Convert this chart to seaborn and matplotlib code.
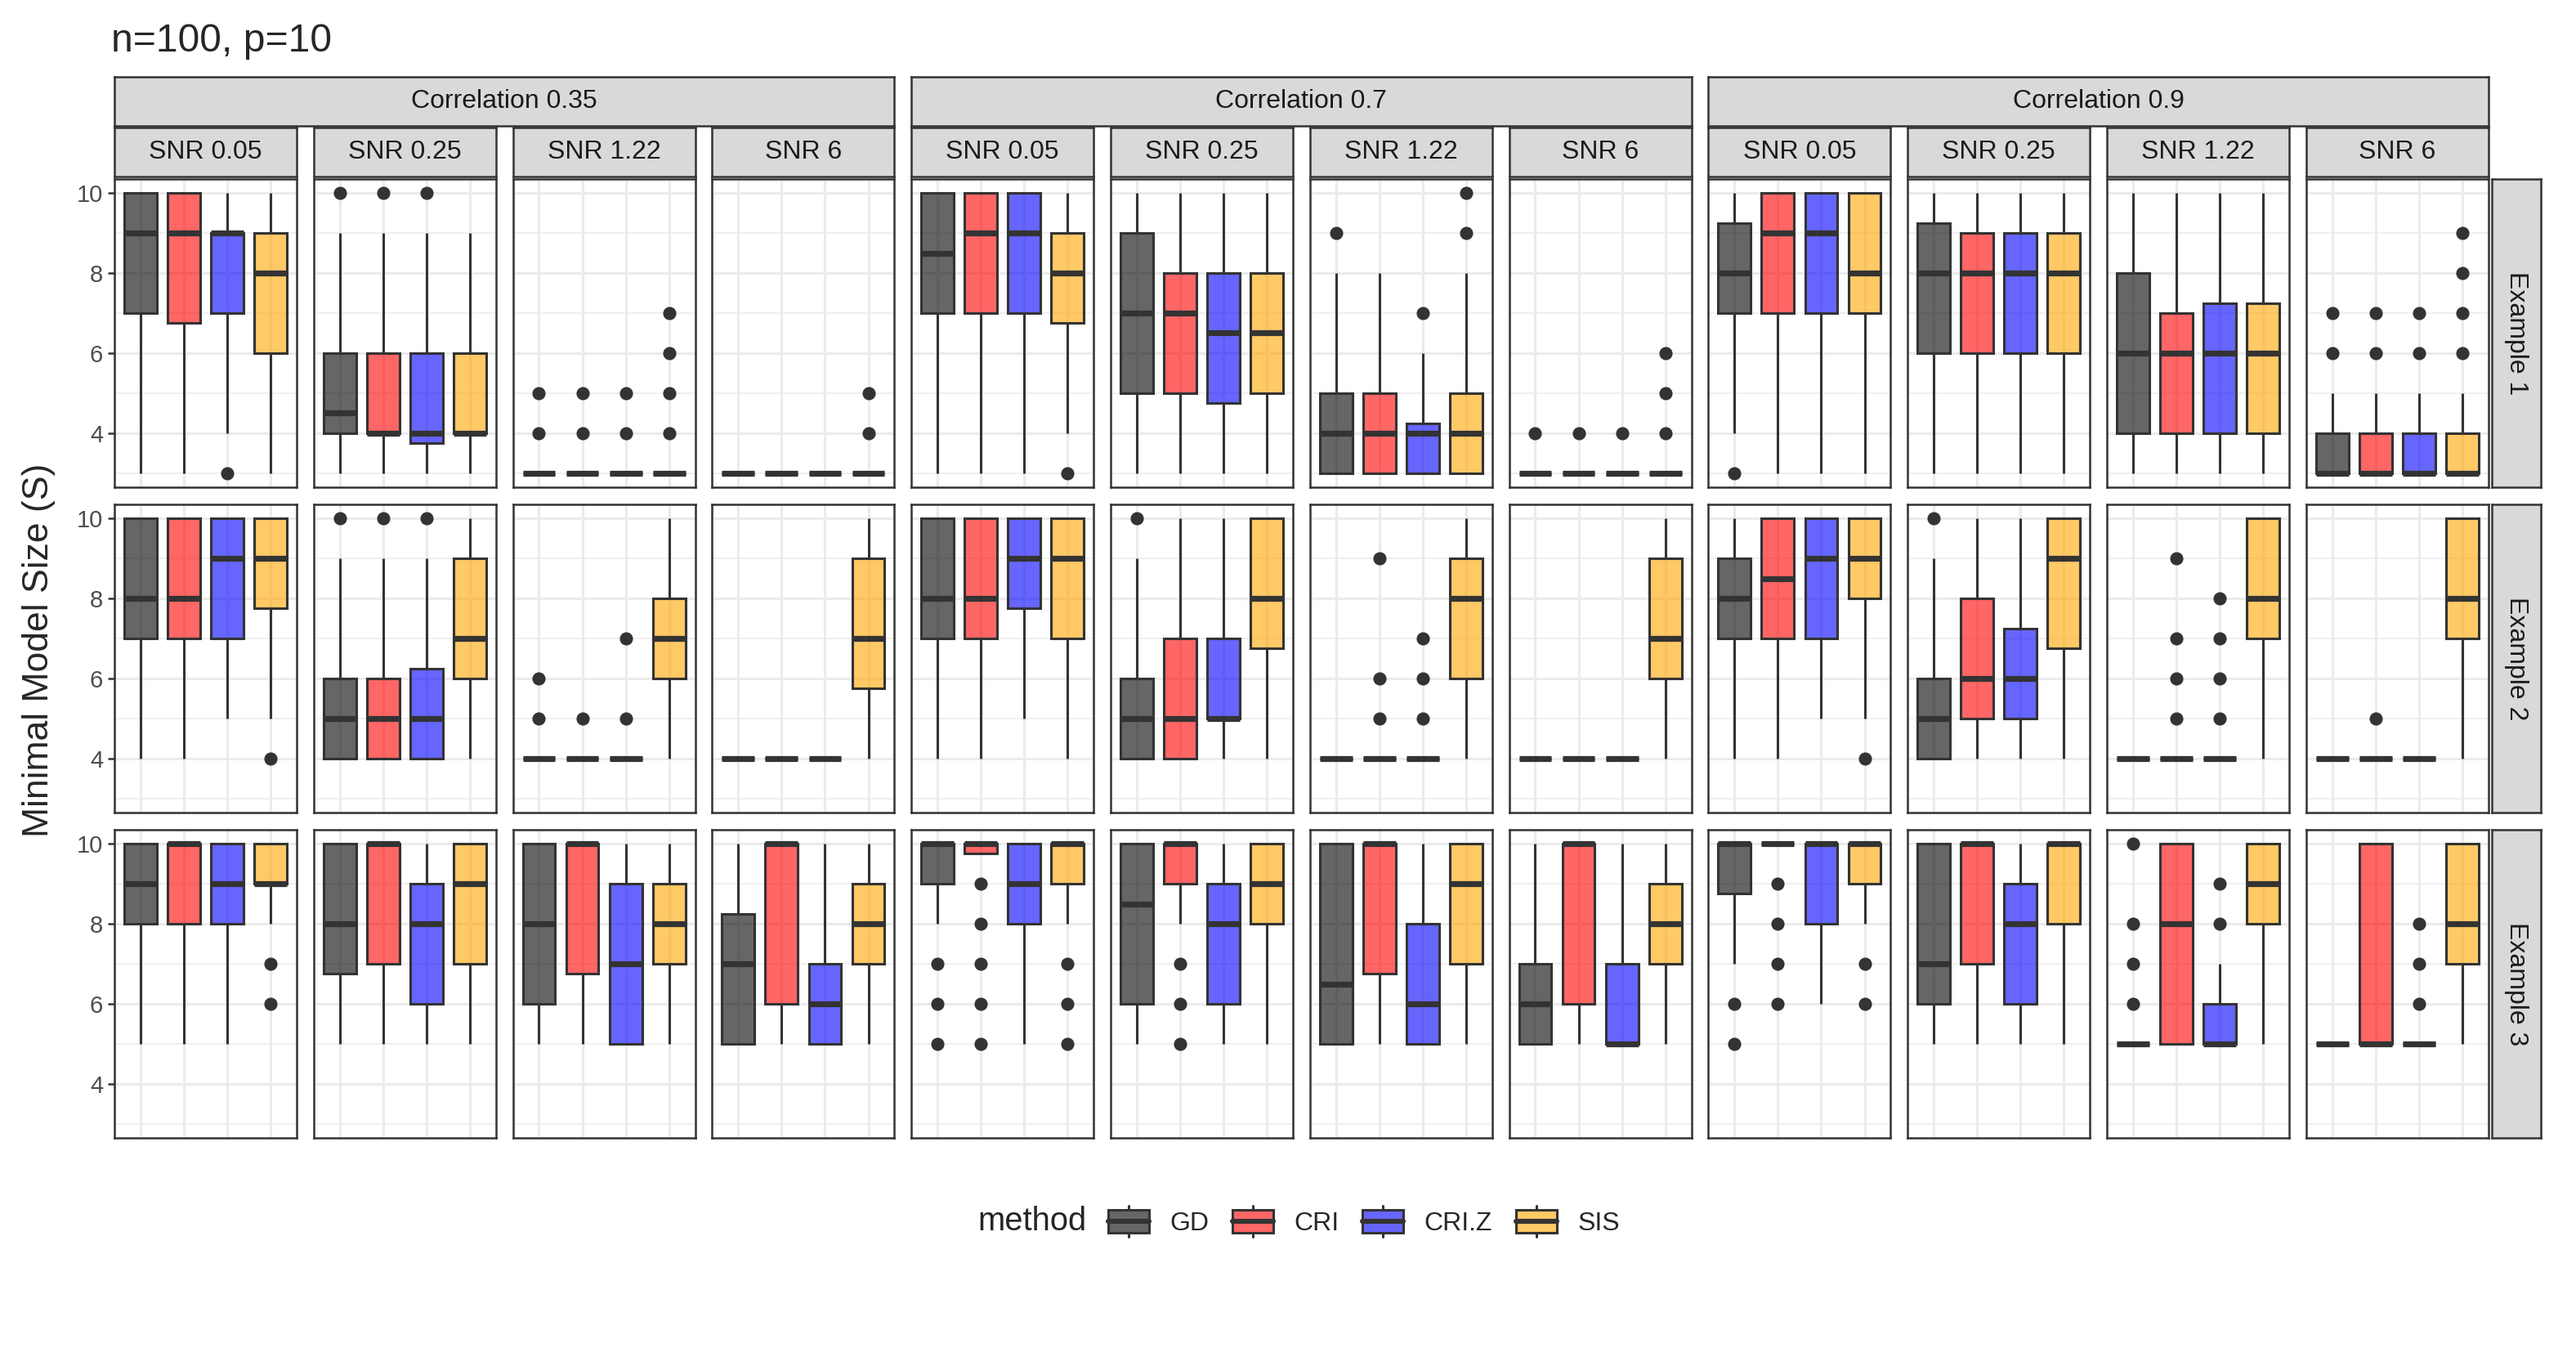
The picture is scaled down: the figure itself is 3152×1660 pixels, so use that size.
import numpy as np
import pandas as pd
import matplotlib
matplotlib.use("Agg")
import matplotlib.pyplot as plt
import seaborn as sns
from matplotlib.patches import Patch, Rectangle
from matplotlib.lines import Line2D
from matplotlib.legend_handler import HandlerBase

methods = ["GD", "CRI", "CRI.Z", "SIS"]
method_colors = ["#000000", "#FF0000", "#0000FF", "#FFA500"]
correlations = ["Correlation 0.35", "Correlation 0.7", "Correlation 0.9"]
snr_levels = ["SNR 0.05", "SNR 0.25", "SNR 1.22", "SNR 6"]
examples = ["Example 1", "Example 2", "Example 3"]

# box summaries.
# each line = one correlation, 4 SNR panels x 4 methods (GD, CRI, CRI.Z, SIS)
# ---- Example 1
ex1_lo = [3, 3, 4, 3,  3, 3, 3, 3,  3, 3, 3, 3,  3, 3, 3, 3,
          3, 3, 3, 4,  3, 3, 3, 3,  3, 3, 3, 3,  3, 3, 3, 3,
          4, 3, 3, 3,  3, 3, 3, 3,  3, 3, 3, 3,  3, 3, 3, 3]
ex1_q1 = [7, 6.75, 7, 6,  4, 4, 3.75, 4,  3, 3, 3, 3,  3, 3, 3, 3,
          7, 7, 7, 6.75,  5, 5, 4.75, 5,  3, 3, 3, 3,  3, 3, 3, 3,
          7, 7, 7, 7,  6, 6, 6, 6,  4, 4, 4, 4,  3, 3, 3, 3]
ex1_med = [9, 9, 9, 8,  4.5, 4, 4, 4,  3, 3, 3, 3,  3, 3, 3, 3,
           8.5, 9, 9, 8,  7, 7, 6.5, 6.5,  4, 4, 4, 4,  3, 3, 3, 3,
           8, 9, 9, 8,  8, 8, 8, 8,  6, 6, 6, 6,  3, 3, 3, 3]
ex1_q3 = [10, 10, 9, 9,  6, 6, 6, 6,  3, 3, 3, 3,  3, 3, 3, 3,
          10, 10, 10, 9,  9, 8, 8, 8,  5, 5, 4.25, 5,  3, 3, 3, 3,
          9.25, 10, 10, 10,  9.25, 9, 9, 9,  8, 7, 7.25, 7.25,  4, 4, 4, 4]
ex1_hi = [10, 10, 10, 10,  9, 9, 9, 9,  3, 3, 3, 3,  3, 3, 3, 3,
          10, 10, 10, 10,  10, 10, 10, 10,  8, 8, 6, 8,  3, 3, 3, 3,
          10, 10, 10, 10,  10, 10, 10, 10,  10, 10, 10, 10,  5, 5, 5, 5]
ex1_out = [[], [], [3], [],  [10], [10], [10], [],  [4, 5], [4, 5], [4, 5], [4, 5, 6, 7],  [], [], [], [4, 5],
           [], [], [], [3],  [], [], [], [],  [9], [], [7], [9, 10],  [4], [4], [4], [4, 5, 6],
           [3], [], [], [],  [], [], [], [],  [], [], [], [],  [6, 7], [6, 7], [6, 7], [6, 7, 8, 9]]

# ---- Example 2
ex2_lo = [4, 4, 5, 5,  4, 4, 4, 4,  4, 4, 4, 4,  4, 4, 4, 4,
          4, 4, 5, 4,  4, 4, 4, 4,  4, 4, 4, 4,  4, 4, 4, 4,
          4, 4, 5, 5,  4, 4, 4, 4,  4, 4, 4, 4,  4, 4, 4, 4]
ex2_q1 = [7, 7, 7, 7.75,  4, 4, 4, 6,  4, 4, 4, 6,  4, 4, 4, 5.75,
          7, 7, 7.75, 7,  4, 4, 5, 6.75,  4, 4, 4, 6,  4, 4, 4, 6,
          7, 7, 7, 8,  4, 5, 5, 6.75,  4, 4, 4, 7,  4, 4, 4, 7]
ex2_med = [8, 8, 9, 9,  5, 5, 5, 7,  4, 4, 4, 7,  4, 4, 4, 7,
           8, 8, 9, 9,  5, 5, 5, 8,  4, 4, 4, 8,  4, 4, 4, 7,
           8, 8.5, 9, 9,  5, 6, 6, 9,  4, 4, 4, 8,  4, 4, 4, 8]
ex2_q3 = [10, 10, 10, 10,  6, 6, 6.25, 9,  4, 4, 4, 8,  4, 4, 4, 9,
          10, 10, 10, 10,  6, 7, 7, 10,  4, 4, 4, 9,  4, 4, 4, 9,
          9, 10, 10, 10,  6, 8, 7.25, 10,  4, 4, 4, 10,  4, 4, 4, 10]
ex2_hi = [10, 10, 10, 10,  9, 9, 9, 10,  4, 4, 4, 10,  4, 4, 4, 10,
          10, 10, 10, 10,  9, 10, 10, 10,  4, 4, 4, 10,  4, 4, 4, 10,
          10, 10, 10, 10,  9, 10, 10, 10,  4, 4, 4, 10,  4, 4, 4, 10]
ex2_out = [[], [], [], [4],  [10], [10], [10], [],  [5, 6], [5], [5, 7], [],  [], [], [], [],
           [], [], [], [],  [10], [], [], [],  [], [5, 6, 9], [5, 6, 7], [],  [], [], [], [],
           [], [], [], [4],  [10], [], [], [],  [], [5, 6, 7, 9], [5, 6, 7, 8], [],  [], [5], [], []]

# ---- Example 3
ex3_lo = [5, 5, 5, 8,  5, 5, 5, 5,  5, 5, 5, 5,  5, 5, 5, 5,
          8, 9.75, 5, 8,  5, 8, 5, 5,  5, 5, 5, 5,  5, 5, 5, 5,
          7, 10, 6, 8,  5, 5, 5, 5,  5, 5, 5, 5,  5, 5, 5, 5]
ex3_q1 = [8, 8, 8, 9,  6.75, 7, 6, 7,  6, 6.75, 5, 7,  5, 6, 5, 7,
          9, 9.75, 8, 9,  6, 9, 6, 8,  5, 6.75, 5, 7,  5, 6, 5, 7,
          8.75, 10, 8, 9,  6, 7, 6, 8,  5, 5, 5, 8,  5, 5, 5, 7]
ex3_med = [9, 10, 9, 9,  8, 10, 8, 9,  8, 10, 7, 8,  7, 10, 6, 8,
           10, 10, 9, 10,  8.5, 10, 8, 9,  6.5, 10, 6, 9,  6, 10, 5, 8,
           10, 10, 10, 10,  7, 10, 8, 10,  5, 8, 5, 9,  5, 5, 5, 8]
ex3_q3 = [10, 10, 10, 10,  10, 10, 9, 10,  10, 10, 9, 9,  8.25, 10, 7, 9,
          10, 10, 10, 10,  10, 10, 9, 10,  10, 10, 8, 10,  7, 10, 7, 9,
          10, 10, 10, 10,  10, 10, 9, 10,  5, 10, 6, 10,  5, 10, 5, 10]
ex3_hi = [10, 10, 10, 10,  10, 10, 10, 10,  10, 10, 10, 10,  10, 10, 10, 10,
          10, 10, 10, 10,  10, 10, 10, 10,  10, 10, 10, 10,  10, 10, 10, 10,
          10, 10, 10, 10,  10, 10, 10, 10,  5, 10, 7, 10,  5, 10, 5, 10]
ex3_out = [[], [], [], [6, 7],  [], [], [], [],  [], [], [], [],  [], [], [], [],
           [5, 6, 7], [5, 6, 7, 8, 9], [], [5, 6, 7],  [], [5, 6, 7], [], [],  [], [], [], [],  [], [], [], [],
           [5, 6], [6, 7, 8, 9], [], [6, 7],  [], [], [], [],  [6, 7, 8, 10], [], [8, 9], [],  [], [], [6, 7, 8], []]

stats = {
    "Example 1": (ex1_lo, ex1_q1, ex1_med, ex1_q3, ex1_hi, ex1_out),
    "Example 2": (ex2_lo, ex2_q1, ex2_med, ex2_q3, ex2_hi, ex2_out),
    "Example 3": (ex3_lo, ex3_q1, ex3_med, ex3_q3, ex3_hi, ex3_out),
}


def box_sample(lo, q1, med, q3, hi, out, n=101):
    # sorted sample whose quartiles / whiskers / outliers match the summary
    low = sorted(o for o in out if o < q1)
    high = sorted(o for o in out if o > q3)
    k, m = len(low), len(high)
    v = np.empty(n)
    v[:k] = low
    v[k] = lo
    v[k + 1:26] = q1
    v[26:51] = med
    v[51:76] = q3
    v[76:n - 1 - m] = q3
    v[n - 1 - m] = hi
    v[n - m:] = high
    return v


rows = []
for ex in examples:
    lo, q1, med, q3, hi, out = stats[ex]
    for i in range(48):
        panel, mi = divmod(i, 4)
        corr, snr = divmod(panel, 4)
        for val in box_sample(lo[i], q1[i], med[i], q3[i], hi[i], out[i]):
            rows.append((ex, correlations[corr], snr_levels[snr], methods[mi], val))
df = pd.DataFrame(rows, columns=["example", "correlation", "snr", "method", "value"])

sns.set_style("white")
plt.rcParams["font.family"] = ["Liberation Sans", "DejaVu Sans"]

W, H = 3152, 1660
fig = plt.figure(figsize=(W / 200, H / 200), dpi=200)


def rect(x, y, w, h):
    return [x / W, 1 - (y + h) / H, w / W, h / H]


dark = "#333333"
col_left = [140 + i * 243.8 for i in range(12)]
pw, ph = 223, 377
row_top = [219, 617, 1015]


def strip(r, text, rotation=0):
    s = fig.add_axes(r)
    s.set_facecolor("#D9D9D9")
    s.set_xticks([])
    s.set_yticks([])
    for sp in s.spines.values():
        sp.set_color(dark)
        sp.set_linewidth(0.9)
    s.text(0.5, 0.5, text, transform=s.transAxes, ha="center", va="center",
           rotation=rotation, fontsize=11.5, color="#1A1A1A")


for r, ex in enumerate(examples):
    for c in range(12):
        corr, snr = correlations[c // 4], snr_levels[c % 4]
        ax = fig.add_axes(rect(col_left[c], row_top[r], pw, ph))
        d = df[(df.example == ex) & (df.correlation == corr) & (df.snr == snr)]
        sns.boxplot(data=d, x="method", y="value", hue="method", order=methods,
                    hue_order=methods, palette=method_colors, saturation=1,
                    width=0.75, linecolor=dark, linewidth=1.1, showcaps=False,
                    medianprops=dict(linewidth=2.6, color=dark),
                    flierprops=dict(marker="o", markersize=4.8, markerfacecolor=dark,
                                    markeredgecolor=dark),
                    legend=False, ax=ax)
        for p in ax.patches:
            fc = p.get_facecolor()
            p.set_facecolor((fc[0], fc[1], fc[2], 0.6))
        ax.set_xlim(-0.6, 3.6)
        ax.set_ylim(2.65, 10.35)
        ax.set_yticks([4, 6, 8, 10])
        ax.set_yticks([3, 5, 7, 9], minor=True)
        ax.set_axisbelow(True)
        ax.grid(which="major", color="#EBEBEB", linewidth=1.1)
        ax.grid(which="minor", axis="y", color="#EBEBEB", linewidth=0.55)
        ax.set_xlabel("")
        ax.set_ylabel("")
        ax.tick_params(axis="x", bottom=False, labelbottom=False)
        ax.tick_params(axis="y", which="minor", left=False)
        if c == 0:
            ax.tick_params(axis="y", which="major", left=True, length=3, width=0.9,
                           color=dark, labelcolor="#4D4D4D", labelsize=10.5, pad=2)
        else:
            ax.tick_params(axis="y", left=False, labelleft=False)
        for sp in ax.spines.values():
            sp.set_color(dark)
            sp.set_linewidth(0.9)
            sp.set_visible(True)
        if r == 0:
            strip(rect(col_left[c], 156, pw, 60), snr)
    # right strip
    strip(rect(col_left[11] + pw + 4, row_top[r], 60, ph), ex, rotation=-90)

for g in range(3):
    x0 = col_left[4 * g]
    x1 = col_left[4 * g + 3] + pw
    strip(rect(x0, 94, x1 - x0, 60), correlations[g])

fig.text(136 / W, 1 - 63 / H, "n=100, p=10", fontsize=17.3, ha="left", va="baseline")
fig.text(48 / W, 1 - 795 / H, "Minimal Model Size (S)", fontsize=16,
         rotation=90, ha="center", va="center")


class BoxKey(HandlerBase):
    def create_artists(self, legend, orig_handle, xdescent, ydescent,
                       width, height, fontsize, trans):
        x0, y0 = -xdescent, -ydescent
        cx = x0 + width / 2
        fc = orig_handle.get_facecolor()
        top = Line2D([cx, cx], [y0 + 0.85 * height, y0 + height], color=dark, lw=1.1, transform=trans)
        bot = Line2D([cx, cx], [y0, y0 + 0.15 * height], color=dark, lw=1.1, transform=trans)
        box = Rectangle((x0, y0 + 0.15 * height), width, 0.7 * height, facecolor=fc,
                        edgecolor=dark, lw=1.1, transform=trans)
        med = Line2D([x0, x0 + width], [y0 + height / 2] * 2, color=dark, lw=2.2, transform=trans)
        return [top, bot, box, med]


handles = [Patch(facecolor=(*matplotlib.colors.to_rgb(c), 0.6)) for c in method_colors]
fig.text(1196 / W, 1 - 1494 / H, "method", fontsize=14.4, ha="left", va="center")
fig.legend(handles, methods, handler_map={Patch: BoxKey()}, loc="center left",
           bbox_to_anchor=(1356 / W, 1 - 1494 / H), ncol=4, frameon=False,
           fontsize=11.5, handlelength=1.56, handleheight=1.5, handletextpad=0.8,
           columnspacing=0.9, borderpad=0, borderaxespad=0)

fig.savefig("out.png", dpi=200)
